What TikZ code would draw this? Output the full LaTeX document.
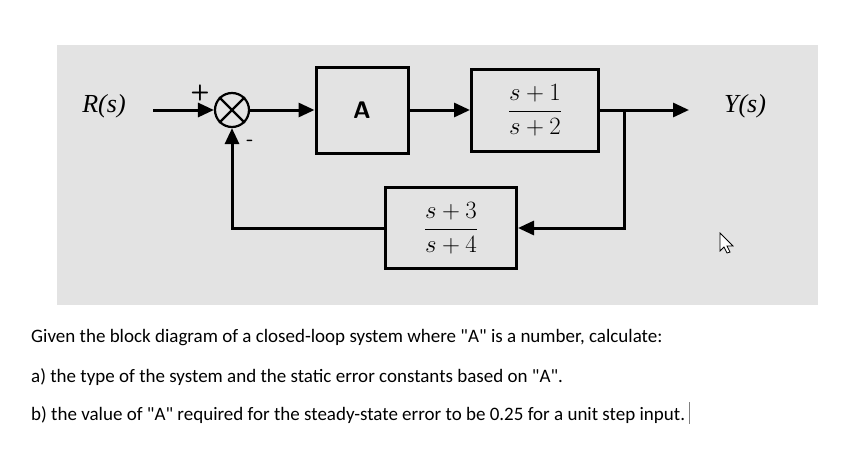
\documentclass[tikz,border=0pt]{standalone}
\usepackage{fontspec}
\setmainfont{Carlito}[Ligatures=TeXOff]
\newfontfamily\serifm{Liberation Serif}
\usetikzlibrary{arrows.meta}
\begin{document}
\begin{tikzpicture}[x=1pt,y=-1pt,
  blk/.style={draw,line width=3pt,minimum width=#1,inner sep=0pt},
  ar/.style={line width=3pt,-{Triangle[length=16pt,width=14pt]}},
  lbl/.style={font=\serifm\fontsize{26}{28}\selectfont\itshape},
  frac/.style={font=\fontsize{24}{26}\selectfont}]
\useasboundingbox (0,0) rectangle (860,466);
\fill[white] (0,0) rectangle (860,466);
\fill[gray!22] (57,45) rectangle (818,305);
\node[lbl] (R) at (104,106) {R(s)};
\node[draw,circle,line width=2.2pt,minimum size=34pt,inner sep=0pt] (S) at (232,110) {};
\draw[line width=2.2pt] (S.45) -- (S.225) (S.135) -- (S.315);
\node[font=\sffamily\bfseries\fontsize{22}{22}\selectfont] (p) at (200,93) {+};
\node[font=\sffamily\bfseries\fontsize{20}{20}\selectfont] (m) at (250,143) {-};
\node[blk=92pt,minimum height=86pt,font=\sffamily\bfseries\fontsize{24}{24}\selectfont] (A) at (362,110) {A};
\node[blk=127pt,minimum height=82pt,frac] (G) at (535,110) {$\displaystyle\frac{s+1}{s+2}$};
\node[blk=131pt,minimum height=81pt,frac] (H) at (451,228) {$\displaystyle\frac{s+3}{s+4}$};
\node[lbl] (Y) at (745,106) {Y(s)};
\coordinate (b) at (624,110);
\coordinate (out) at (689,110);
\draw[ar] (153,110) -- (S.west);
\draw[ar] (S.east) -- (A.west);
\draw[ar] (A.east) -- (G.west);
\draw[ar] (G.east) -- (out);
\draw[ar] (b) |- (H.east);
\draw[ar] (H.west) -| (S.south);
\draw[line width=0.8pt,fill=white] (720,233) -- (720,251) -- (724,247) -- (727,253) -- (730,252) -- (727,246) -- (733,246) -- cycle;
\begin{scope}[every node/.style={anchor=base west,font=\fontsize{19}{19}\selectfont,inner sep=0pt}]
\node (t1) at (31,342) {Given the block diagram of a closed-loop system where "A" is a number, calculate:};
\node (t2) at (31,382) {a) the type of the system and the static error constants based on "A".};
\node (t3) at (31,420) {b) the value of "A" required for the steady-state error to be 0.25 for a unit step input.};
\end{scope}
\draw[gray,line width=0.6pt] (689,402) -- (689,424);
\end{tikzpicture}
\end{document}
